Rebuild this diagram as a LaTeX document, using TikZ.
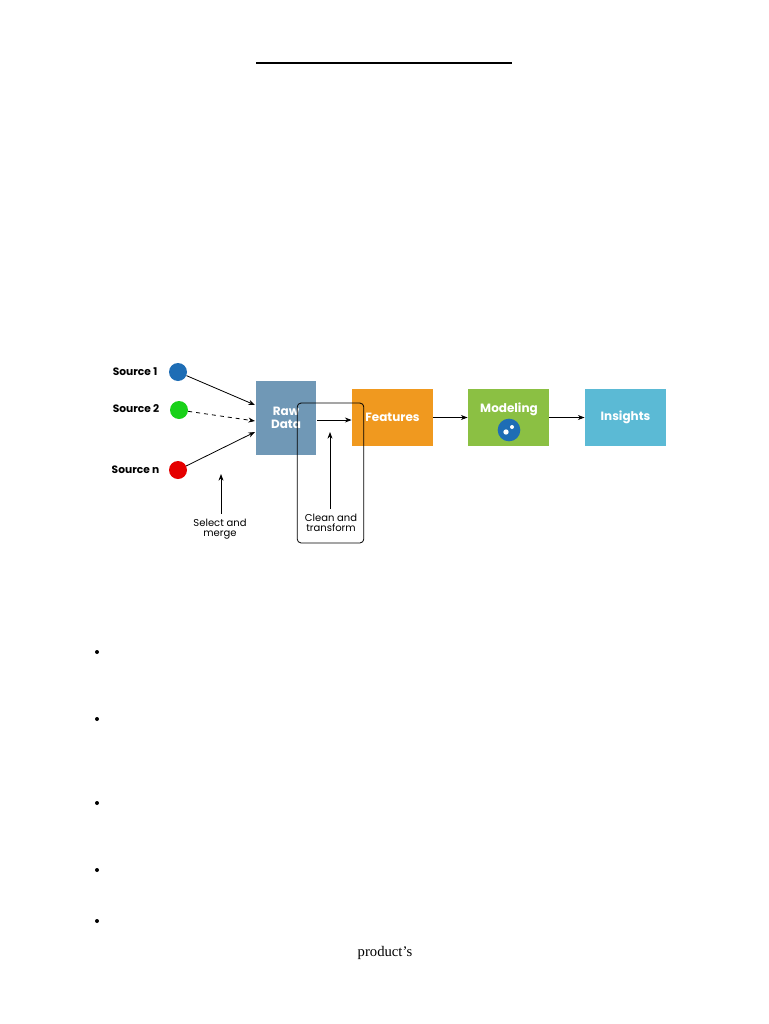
\documentclass[tikz,border=0pt]{standalone}
\usepackage{fontspec}
\setmainfont{Liberation Serif}
\newfontfamily\pop{Poppins}
\usetikzlibrary{arrows.meta}
\definecolor{rawc}{HTML}{7098B6}
\definecolor{featc}{HTML}{F0991F}
\definecolor{modc}{HTML}{8BC043}
\definecolor{insc}{HTML}{5BBAD5}
\definecolor{gearc}{HTML}{1E6DB5}
\begin{document}
\begin{tikzpicture}[x=0.75pt,y=-0.75pt,
  blk/.style={inner sep=0pt, font=\pop\fontsize{9}{10}\selectfont\bfseries, text=white, align=center},
  src/.style={circle, inner sep=0pt, minimum size=13.5pt},
  lab/.style={font=\pop\fontsize{8}{9}\selectfont\bfseries, anchor=east},
  note/.style={font=\pop\fontsize{7.5}{8}\selectfont, align=center},
  arr/.style={-{Stealth[length=5pt]}, line width=0.6pt},
  bul/.style={circle, fill=black, inner sep=0pt, minimum size=3pt}]
\useasboundingbox (0,0) rectangle (768,1024);
\coordinate (t1) at (256,63); \coordinate (t2) at (512,63);
\draw[line width=1.2pt] (t1) -- (t2);
\node[src, fill=gearc] (s1) at (178,372) {};
\node[src, fill=green!80!black!90] (s2) at (179,410) {};
\node[src, fill=red!90!black] (sn) at (178,470) {};
\node[lab] (l1) at (162,372) {Source 1};
\node[lab] (l2) at (164,409) {Source 2};
\node[lab] (ln) at (164,470) {Source n};
\node[blk, fill=rawc, minimum width=45pt, minimum height=56pt] (raw) at (286,418) {Raw\\Data};
\node[blk, fill=featc, minimum width=61pt, minimum height=43pt] (feat) at (392.5,417.5) {Features};
\node[blk, fill=modc, minimum width=61pt, minimum height=43pt] (mod) at (508.5,417.5) {};
\node[blk] (modt) at (509,409) {Modeling};
\node[circle, fill=gearc, minimum size=17pt, inner sep=0pt] (gear) at (509,430) {};
\node[circle, fill=white, minimum size=4pt, inner sep=0pt] (g1) at (506,432) {};
\node[circle, fill=white, minimum size=3pt, inner sep=0pt] (g2) at (512,427) {};
\node[blk, fill=insc, minimum width=61pt, minimum height=43pt] (ins) at (625.5,417.5) {Insights};
\coordinate (r1) at (255,405); \coordinate (r2) at (255,421); \coordinate (rn) at (255,432);
\draw[arr] (s1) -- (r1);
\draw[arr, dashed] (s2) -- (r2);
\draw[arr] (sn) -- (rn);
\coordinate (rf) at (317,420);
\draw[arr] (rf) -- (feat.west |- rf);
\draw[arr] (feat) -- (mod);
\draw[arr] (mod) -- (ins);
\node[draw, rounded corners=3pt, line width=0.6pt, minimum width=50pt, minimum height=105pt] (ct) at (330.5,473) {};
\node[note] (ctt) at (331,523) {Clean and\\transform};
\coordinate (cu) at (330,432);
\draw[arr] (ctt.north -| cu) -- (cu);
\node[note] (sm) at (220,529) {Select and\\merge};
\coordinate (su) at (221,474);
\draw[arr] (sm.north -| su) -- (su);
\node[bul] (b1) at (97,652) {};
\node[bul] (b2) at (97,719) {};
\node[bul] (b3) at (97,803) {};
\node[bul] (b4) at (97,870) {};
\node[bul] (b5) at (97,921) {};
\node[font=\fontsize{11}{12}\selectfont] (pr) at (385,953) {product’s};
\end{tikzpicture}
\end{document}
